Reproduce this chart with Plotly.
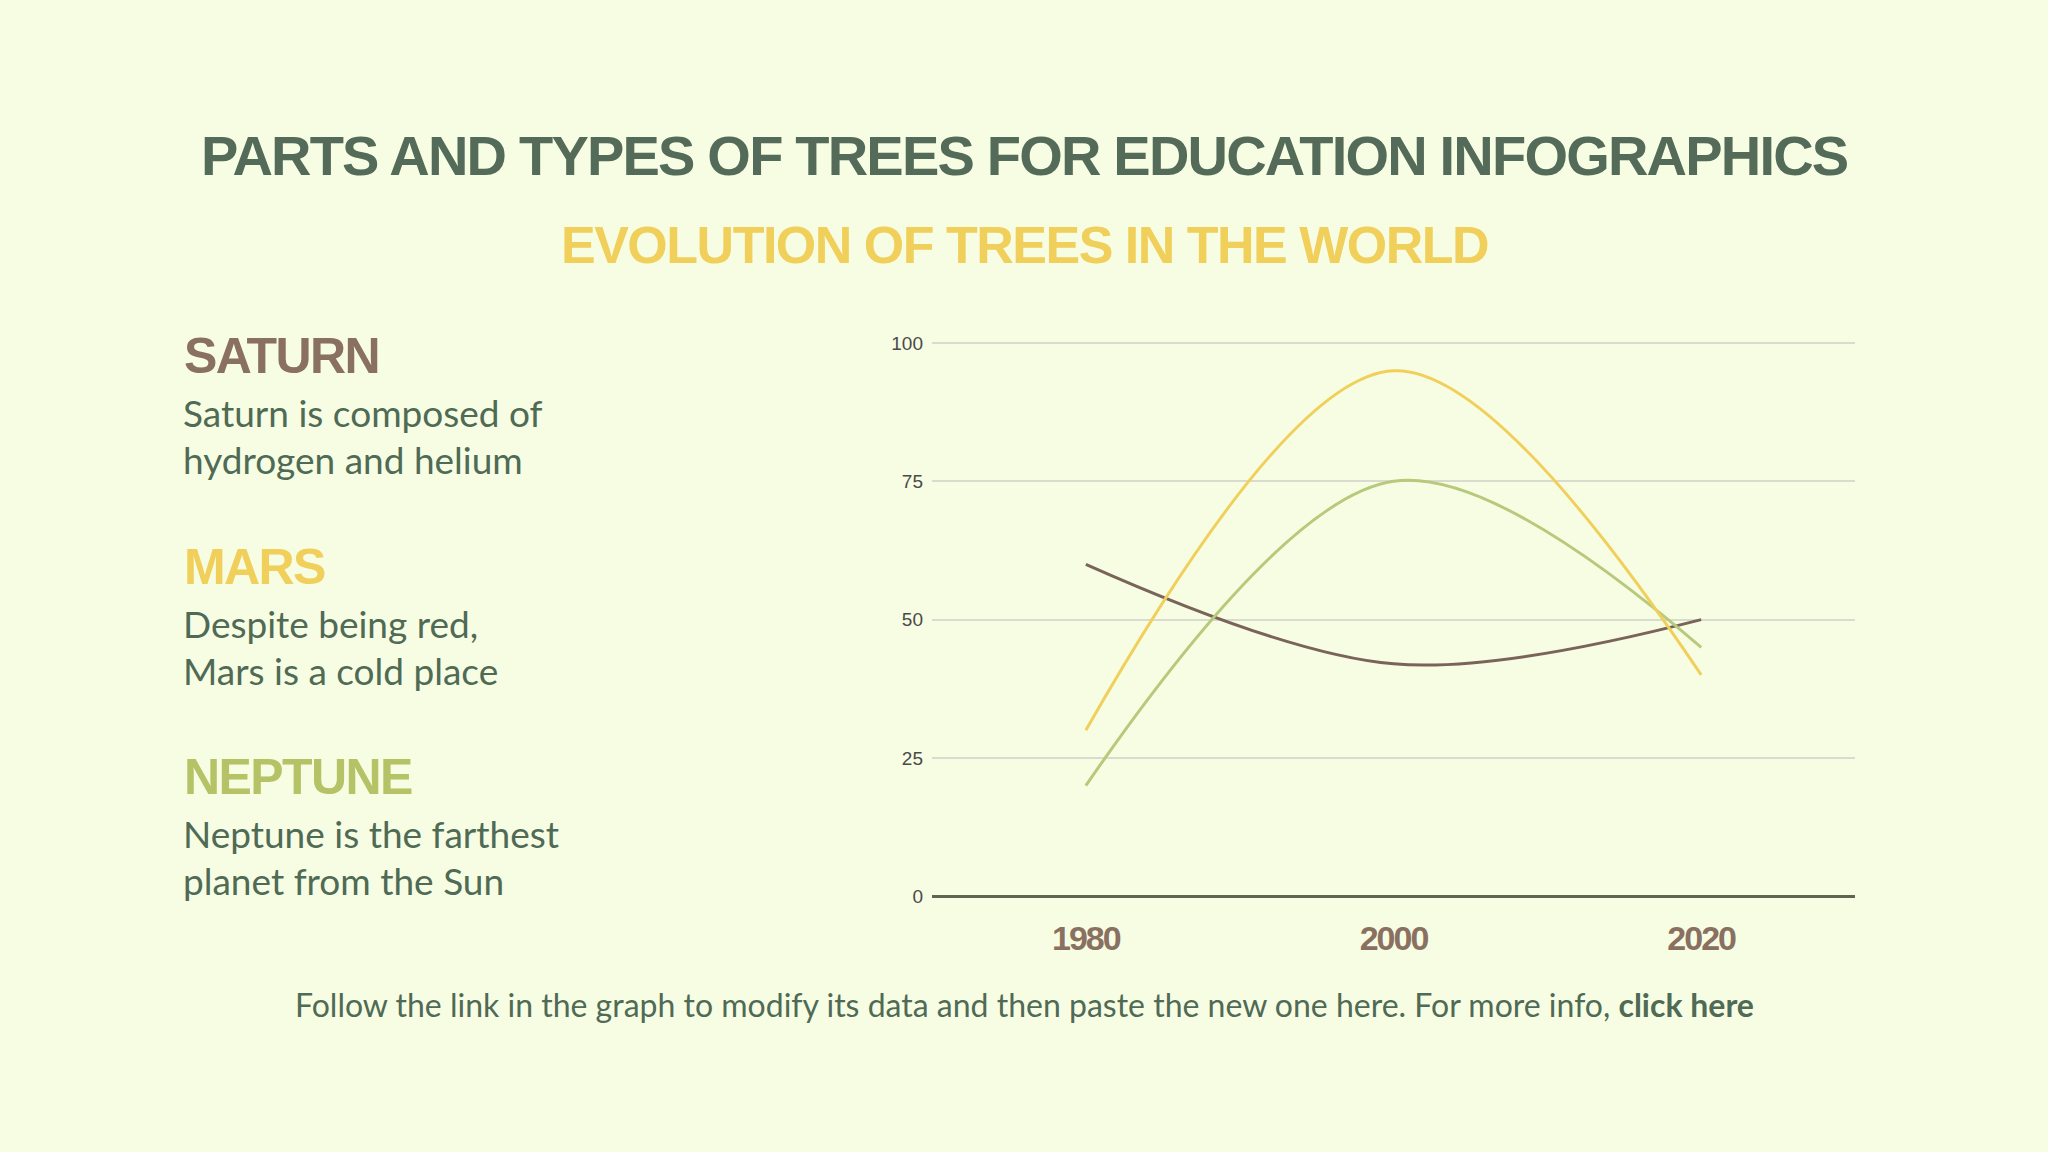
import plotly.graph_objects as go

# ---- data ----
years = ["1980", "2000", "2020"]
saturn = [60, 42, 50]
mars = [30, 95, 40]
neptune = [20, 75, 45]
y_ticks = [0, 25, 50, 75, 100]

title = "PARTS AND TYPES OF TREES FOR EDUCATION INFOGRAPHICS"
subtitle = "EVOLUTION OF TREES IN THE WORLD"
planets = ["SATURN", "MARS", "NEPTUNE"]
descriptions = [
    ["Saturn is composed of", "hydrogen and helium"],
    ["Despite being red,", "Mars is a cold place"],
    ["Neptune is the farthest", "planet from the Sun"],
]
footer = "Follow the link in the graph to modify its data and then paste the new one here. For more info, <b>click here</b>"

# ---- style ----
W, H = 2048, 1152
BG = "#F7FDE3"
DARK = "#4F6A55"
YELLOW = "#F0CF5A"
GREEN = "#B7C97A"
BROWN = "#7A6358"
HEAD_FONT = "Liberation Sans Narrow, Arial Narrow, Liberation Sans, sans-serif"
BODY_FONT = "Lato, Open Sans, sans-serif"
planet_colors = ["#8A7061", "#F0CF5A", "#B5C265"]


def py(px):
    return 1 - px / H


def pxx(px):
    return px / W


def tight(txt, ls):
    return '<span style="letter-spacing:%spx"><b>%s</b></span>' % (ls, txt)


fig = go.Figure()
for name, vals, col in [("Saturn", saturn, BROWN), ("Neptune", neptune, GREEN), ("Mars", mars, YELLOW)]:
    fig.add_trace(go.Scatter(
        x=years, y=vals, mode="lines", name=name,
        line=dict(color=col, width=3, shape="spline", smoothing=1.0),
        hoverinfo="skip",
    ))

ann = []
ann.append(dict(text=tight(title, -1.8), x=0.5, y=py(152), xref="paper", yref="paper",
                xanchor="center", yanchor="middle", showarrow=False,
                font=dict(family=HEAD_FONT, size=56, color="#536B58")))
ann.append(dict(text=tight(subtitle, -1.5), x=pxx(1024), y=py(242), xref="paper", yref="paper",
                xanchor="center", yanchor="middle", showarrow=False,
                font=dict(family=HEAD_FONT, size=52, color=YELLOW)))

head_y = [354, 567, 779]
for i, (p, d) in enumerate(zip(planets, descriptions)):
    ann.append(dict(text=tight(p, -1.6), x=pxx(182), y=py(head_y[i]), xref="paper", yref="paper",
                    xanchor="left", yanchor="middle", showarrow=False,
                    font=dict(family=HEAD_FONT, size=50, color=planet_colors[i])))
    for j, line in enumerate(d):
        ann.append(dict(text=line, x=pxx(181), y=py(head_y[i] + 57 + 47 * j), xref="paper", yref="paper",
                        xanchor="left", yanchor="middle", showarrow=False,
                        font=dict(family=BODY_FONT, size=37, color=DARK)))

ann.append(dict(text=footer, x=pxx(1024), y=py(1008), xref="paper", yref="paper",
                xanchor="center", yanchor="middle", showarrow=False,
                font=dict(family=BODY_FONT, size=32, color=DARK)))

top_px, bot_px = 341, 899
unit = (bot_px - top_px) / 100.0
fig.update_layout(
    width=W, height=H,
    margin=dict(l=0, r=0, t=0, b=0),
    paper_bgcolor=BG, plot_bgcolor=BG,
    showlegend=False,
    annotations=ann,
    xaxis=dict(
        domain=[pxx(932), pxx(1855)],
        type="category", range=[-0.5, 2.5],
        showgrid=False, zeroline=False, showline=False, ticks="",
        tickmode="array", tickvals=years,
        ticktext=[tight(y, -2) for y in years],
        tickfont=dict(family=HEAD_FONT, size=34, color="#8A7061"),
        ticklabelstandoff=13,
    ),
    yaxis=dict(
        domain=[py(bot_px + unit), py(top_px - unit)],
        range=[-1, 101],
        tickvals=y_ticks,
        showgrid=True, gridcolor="#D9DBCF", gridwidth=2,
        zeroline=True, zerolinecolor="#5D6651", zerolinewidth=3,
        showline=False, ticks="",
        tickfont=dict(family="Liberation Sans Narrow, Liberation Sans, Arial", size=19, color="#4A4A4A"),
        ticklabelstandoff=8,
    ),
)

fig.write_html("out.html")
